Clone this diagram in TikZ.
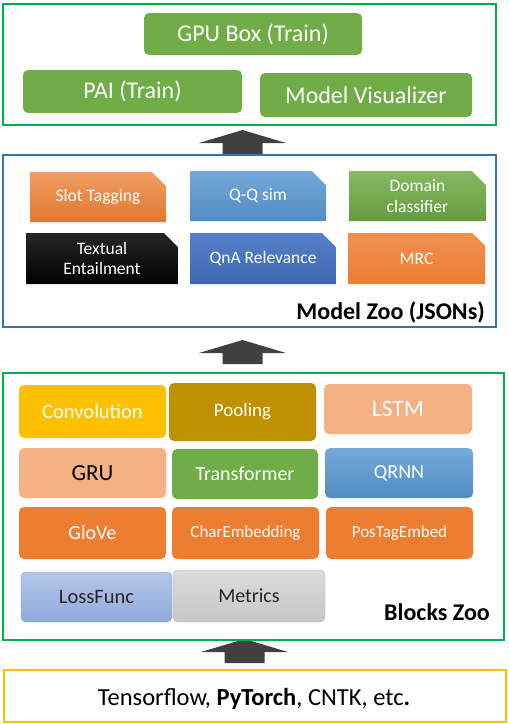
\documentclass[tikz,border=0pt]{standalone}
\usepackage{fontspec}
\setmainfont{Carlito}
\usetikzlibrary{shapes.misc}

\definecolor{zgreen}{HTML}{00B050}
\definecolor{zblue}{HTML}{2E75B6}
\definecolor{zyellow}{HTML}{FFC000}
\definecolor{arrowgray}{HTML}{404040}
\definecolor{okgreen}{HTML}{70AD47}
\definecolor{okorange}{HTML}{ED7D31}
\definecolor{okblue}{HTML}{4472C4}
\definecolor{oklblue}{HTML}{5B9BD5}
\definecolor{okgold}{HTML}{BF9000}
\definecolor{okpeach}{HTML}{F4B183}
\definecolor{txtdark}{HTML}{262626}

\begin{document}
\begin{tikzpicture}[x=1pt,y=-1pt,
  frame/.style={draw, line width=2pt, inner sep=0pt},
  blk/.style={rounded corners=5pt, text=white, align=center, inner sep=0pt},
  snip/.style={chamfered rectangle, chamfered rectangle corners=north east,
    chamfered rectangle xsep=7pt, chamfered rectangle ysep=7pt,
    text=white, align=center, inner sep=0pt,
    font=\fontsize{17.5}{20.5}\selectfont},
  zoolabel/.style={anchor=east, inner sep=0pt, font=\fontsize{24}{28}\selectfont\bfseries}]
\useasboundingbox (0,0) rectangle (509,724);

% block arrows between the layers
\foreach \xa/\ya in {242.5/130, 242.5/340, 244.5/639}
  \fill[arrowgray] (\xa,\ya) -- (\xa+43.5,\ya+13) -- (\xa+20,\ya+13) -- (\xa+20,\ya+24)
    -- (\xa-20,\ya+24) -- (\xa-20,\ya+13) -- (\xa-43.5,\ya+13) -- cycle;

% training and tools
\node[frame, draw=zgreen, minimum width=493, minimum height=121] (tools) at (249.5,64.5) {};
\node[blk, fill=okgreen, minimum width=218, minimum height=42,
  font=\fontsize{24}{28}\selectfont] (gpu) at (253,34) {GPU Box (Train)};
\node[blk, fill=okgreen, minimum width=219, minimum height=43,
  font=\fontsize{24}{28}\selectfont] (pai) at (132.5,91.5) {PAI (Train)};
\node[blk, fill=okgreen, minimum width=212, minimum height=44,
  font=\fontsize{24}{28}\selectfont] (vis) at (366,95) {Model Visualizer};

% model zoo
\node[frame, draw=zblue, minimum width=493, minimum height=172] (modelzoo) at (249.5,241) {};
\node[snip, top color=okorange!75!white, bottom color=okorange!95!black,
  minimum width=136, minimum height=50] (slot) at (98,197) {Slot Tagging};
\node[snip, top color=oklblue!85!white, bottom color=oklblue!90!black,
  minimum width=136, minimum height=50] (qq) at (258,196) {Q-Q sim};
\node[snip, top color=okgreen!85!white, bottom color=okgreen!90!black,
  minimum width=137, minimum height=50] (domain) at (417.5,196) {Domain\\classifier};
\node[snip, top color=black!85, bottom color=black,
  minimum width=152, minimum height=51] (textual) at (102,258.5) {Textual\\Entailment};
\node[snip, top color=okblue!90!white, bottom color=okblue!90!black,
  minimum width=146, minimum height=51] (qna) at (263,258.5) {QnA Relevance};
\node[snip, top color=okorange!85!white, bottom color=okorange,
  minimum width=137, minimum height=51] (mrc) at (416.5,258.5) {MRC};
\node[zoolabel] (mzlabel) at (485,312) {Model Zoo (JSONs)};

% blocks zoo
\node[frame, draw=zgreen, minimum width=501, minimum height=267] (blockszoo) at (253.5,506.5) {};
\node[blk, fill=zyellow, minimum width=147, minimum height=53,
  font=\fontsize{20.5}{24}\selectfont] (conv) at (92.5,411.5) {Convolution};
\node[blk, fill=okgold, minimum width=147, minimum height=58,
  font=\fontsize{19}{23}\selectfont] (pool) at (242.5,412) {Pooling};
\node[blk, fill=okpeach, minimum width=148, minimum height=50,
  font=\fontsize{23.5}{28}\selectfont] (lstm) at (398,409) {LSTM};
\node[blk, fill=okpeach, text=black, minimum width=147, minimum height=50,
  font=\fontsize{23}{27}\selectfont] (gru) at (92.5,473) {GRU};
\node[blk, fill=okgreen, minimum width=146, minimum height=50,
  font=\fontsize{20}{24}\selectfont] (trans) at (245,474) {Transformer};
\node[blk, top color=oklblue!85!white, bottom color=oklblue!90!black, minimum width=148,
  minimum height=50, font=\fontsize{20}{24}\selectfont] (qrnn) at (399,473) {QRNN};
\node[blk, fill=okorange, minimum width=147, minimum height=52,
  font=\fontsize{20}{24}\selectfont] (glove) at (92.5,533) {GloVe};
\node[blk, fill=okorange, minimum width=147, minimum height=52,
  font=\fontsize{17}{20}\selectfont] (charemb) at (245.5,533) {CharEmbedding};
\node[blk, fill=okorange, minimum width=147, minimum height=52,
  font=\fontsize{17}{20}\selectfont] (postag) at (399.5,533) {PosTagEmbed};
\node[blk, draw=okblue!70, top color=okblue!40!white, bottom color=okblue!60!white,
  text=txtdark, minimum width=151, minimum height=50,
  font=\fontsize{20.5}{24}\selectfont] (loss) at (96.5,597) {LossFunc};
\node[blk, draw=black!30, top color=black!14, bottom color=black!22,
  text=txtdark, minimum width=152, minimum height=52,
  font=\fontsize{20}{24}\selectfont] (metrics) at (249,596) {Metrics};
\node[zoolabel] (bzlabel) at (490,612) {Blocks Zoo};

% frameworks
\node[frame, draw=zyellow, minimum width=502, minimum height=52] (backend) at (255,696) {};
\node[inner sep=0pt, font=\fontsize{24.5}{29}\selectfont] (fwtext) at (254,699)
  {Tensorflow, \textbf{PyTorch}, CNTK, etc\textbf{.}};
\end{tikzpicture}
\end{document}
